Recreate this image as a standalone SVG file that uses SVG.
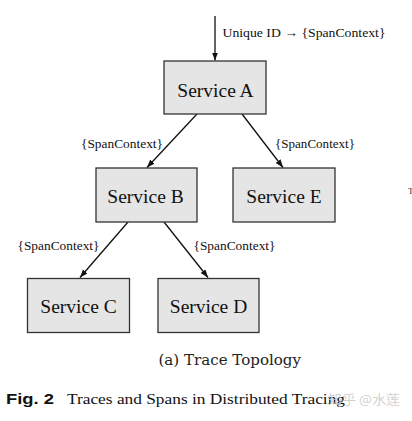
<svg xmlns="http://www.w3.org/2000/svg" width="412" height="421" viewBox="0 0 412 421">
<style>
.box{fill:#e5e5e5;stroke:#333;stroke-width:1.3}
.lbl{font-family:"Liberation Serif","Times New Roman",serif;font-size:19.5px;fill:#111;text-anchor:middle}
.sm{font-family:"Liberation Serif","Times New Roman",serif;font-size:13px;fill:#111}
.edge{stroke:#111;stroke-width:1.3;fill:none;marker-end:url(#ah)}
</style>
<defs>
<marker id="ah" markerUnits="userSpaceOnUse" markerWidth="9" markerHeight="7" refX="8" refY="3" orient="auto">
<path d="M0,0 L8,3 L0,6 z" fill="#111"/>
</marker>
</defs>
<rect width="412" height="421" fill="#fff"/>
<g id="connectors">
<line class="edge" x1="215" y1="16" x2="215" y2="60.5"/>
<line class="edge" x1="197" y1="114" x2="147" y2="167.5"/>
<line class="edge" x1="242" y1="114" x2="283" y2="167.5"/>
<line class="edge" x1="128" y1="222" x2="80" y2="277.5"/>
<line class="edge" x1="164" y1="222" x2="208" y2="277.5"/>
<text class="sm" x="222.5" y="37" textLength="163" lengthAdjust="spacingAndGlyphs">Unique ID → {SpanContext}</text>
<text class="sm" x="81" y="148" textLength="82" lengthAdjust="spacingAndGlyphs">{SpanContext}</text>
<text class="sm" x="275" y="148" textLength="80" lengthAdjust="spacingAndGlyphs">{SpanContext}</text>
<text class="sm" x="17.5" y="250" textLength="82" lengthAdjust="spacingAndGlyphs">{SpanContext}</text>
<text class="sm" x="193.5" y="250" textLength="82" lengthAdjust="spacingAndGlyphs">{SpanContext}</text>
</g>
<g id="serviceA">
<rect class="box" x="164" y="61" width="102" height="53"/>
<text class="lbl" x="215.5" y="96.5">Service A</text>
</g>
<g id="serviceB">
<rect class="box" x="96" y="168" width="101" height="54"/>
<text class="lbl" x="145.5" y="203">Service B</text>
</g>
<g id="serviceE">
<rect class="box" x="233" y="168" width="102" height="54"/>
<text class="lbl" x="284" y="203">Service E</text>
</g>
<g id="serviceC">
<rect class="box" x="27.5" y="278.5" width="102" height="54"/>
<text class="lbl" x="78.5" y="313">Service C</text>
</g>
<g id="serviceD">
<rect class="box" x="158" y="278.5" width="101" height="54"/>
<text class="lbl" x="208.5" y="313">Service D</text>
</g>
<text x="408" y="194" font-family="Liberation Serif,serif" font-size="9" fill="#333">T</text>
<text x="158.5" y="365" font-family="DejaVu Serif,serif" font-size="14" fill="#222" textLength="142.5" lengthAdjust="spacingAndGlyphs">(a) Trace Topology</text>
<text x="6" y="404" font-family="Liberation Sans,Arial,sans-serif" font-weight="bold" font-size="15" fill="#111" textLength="48" lengthAdjust="spacingAndGlyphs">Fig. 2</text>
<text x="67" y="404" font-family="Liberation Serif,serif" font-size="15.5" fill="#111" textLength="278" lengthAdjust="spacingAndGlyphs">Traces and Spans in Distributed Tracing</text>
<text x="328" y="404" font-family="Noto Sans CJK SC,sans-serif" font-size="13" fill="#c8c8c8" fill-opacity="0.85" textLength="72" lengthAdjust="spacingAndGlyphs">知乎 @水莲</text>
</svg>
